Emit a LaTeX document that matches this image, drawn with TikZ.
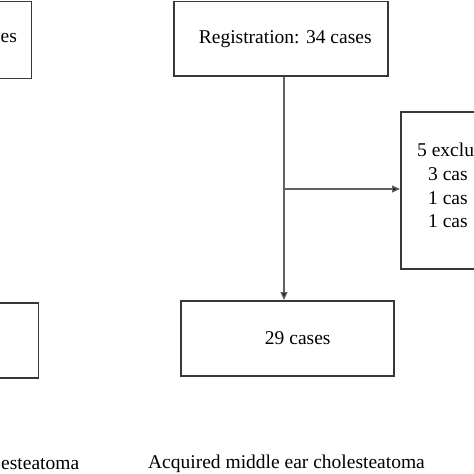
\documentclass[tikz,border=0pt]{standalone}
\usepackage{fontspec}
\setmainfont{Liberation Serif}
\usetikzlibrary{arrows.meta}
\begin{document}
\begin{tikzpicture}[x=1pt,y=-1pt,
  box/.style={draw=black!78,line width=1.5pt,rectangle,inner sep=0pt},
  txt/.style={font=\fontsize{19.5}{23.7}\selectfont,inner sep=0pt},
  arr/.style={draw=black!62,line width=1.2pt,-{Triangle[length=8pt,width=7pt,fill=black!85]}}]
\useasboundingbox (0,0) rectangle (474,474);
\clip (0,0) rectangle (474,474);
% left partial boxes
\node[box,minimum width=120pt,minimum height=77pt,anchor=north east] (lt) at (32,0.7) {};
\node[txt,anchor=west] (lttext) at (0.5,38) {es};
\node[box,minimum width=120pt,minimum height=75pt,anchor=north east] (lb) at (39,302) {};
% registration
\node[box,minimum width=214pt,minimum height=74.5pt,anchor=north west,txt] (reg) at (173,0.7) {\hspace*{9pt}Registration: 34 cases};
% exclusion box
\node[box,minimum width=130pt,minimum height=157pt,anchor=north west] (exc) at (400,111) {};
\node[txt,anchor=north west,align=left] (exctext) at (417,143) {5 exclu\\\hspace*{11pt}3 cas\\\hspace*{11pt}1 cas\\\hspace*{11pt}1 cas};
% 29 cases
\node[box,minimum width=213pt,minimum height=75pt,anchor=north west,txt] (c29) at (180,300) {\hspace*{21pt}29 cases};
% connectors
\coordinate (br) at (284,189);
\draw[arr] (reg.south -| br) -- (br |- c29.north);
\draw[arr] (br) -- (exc.west |- br);
% bottom labels
\node[txt,anchor=west] (lbl1) at (1,464) {esteatoma};
\node[txt] (lbl2) at (286.5,464) {Acquired middle ear cholesteatoma};
\end{tikzpicture}
\end{document}
